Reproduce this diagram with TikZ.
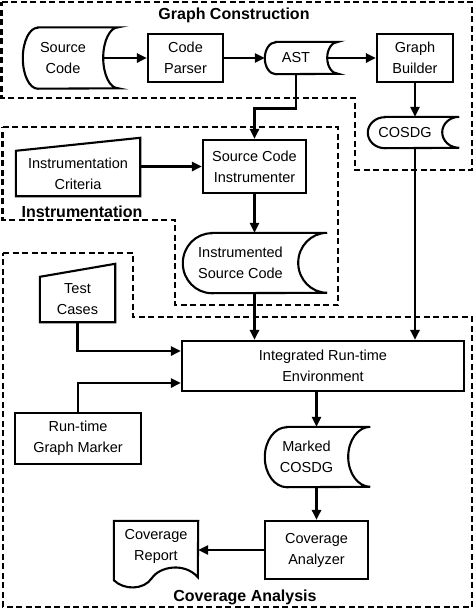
\documentclass[tikz,border=0pt]{standalone}
\usepackage{fontspec}
\setmainfont{Liberation Sans}
\usetikzlibrary{arrows.meta, calc}

% stored data outline round a body node: name, curve depth, half height
\newcommand\storedata[3]{%
  \draw[outline] ([xshift=#2]#1.north west) -- ([xshift=#2]#1.north east)
    arc[start angle=90, end angle=270, x radius=#2, y radius=#3]
    -- ([xshift=#2]#1.south west)
    arc[start angle=270, end angle=90, x radius=#2, y radius=#3] -- cycle;}
% manual input outline: name, rise of the top edge
\newcommand\manualinput[2]{%
  \draw[outline] (#1.south west) -- (#1.north west)
    -- ([yshift=#2]#1.north east) -- (#1.south east) -- cycle;}

\begin{document}
\begin{tikzpicture}[x=1pt, y=-1pt,
  txt/.style={font=\fontsize{14.5}{21}\selectfont, align=center, inner sep=0pt},
  box/.style={txt, draw, line width=2.1pt},
  body/.style={txt},
  outline/.style={line width=2.1pt},
  arr/.style={line width=2.6pt, -{Triangle[length=10pt, width=9pt]}},
  region/.style={line width=2.4pt, dash pattern=on 6pt off 3.5pt},
  regionlabel/.style={font=\fontsize{16}{18}\selectfont\bfseries, inner sep=0pt},
]

  \useasboundingbox (0,0) rectangle (474,611);

  % regions
  \draw[region] (1.5,2) -- (472,2) -- (472,170) -- (355,170) -- (355,98)
    -- (1.5,98) -- cycle;
  \draw[region] (2.5,127) -- (338,127) -- (338,305) -- (175,305) -- (175,220)
    -- (2.5,220) -- cycle;
  \draw[region] (3,253) -- (133,253) -- (133,317) -- (472,317) -- (472,607)
    -- (3,607) -- cycle;

  \node[regionlabel] (gclabel) at (234,15) {Graph Construction};
  \node[regionlabel] (inlabel) at (82,212) {Instrumentation};
  \node[regionlabel] (calabel) at (245,597) {Coverage Analysis};

  % graph construction
  \node[body, minimum width=80pt, minimum height=61pt] (src) at (63,58) {Source\\Code};
  \node[box, minimum width=75pt, minimum height=48pt] (parser) at (185.5,58) {Code\\Parser};
  \node[body, minimum width=62pt, minimum height=32pt] (ast) at (296,58) {AST};
  \node[box, minimum width=76pt, minimum height=48pt] (builder) at (415,58) {Graph\\Builder};
  \node[body, minimum width=74pt, minimum height=31pt] (cosdg) at (405,132.5) {COSDG};
  \storedata{src}{15pt}{30.5pt}
  \storedata{ast}{11pt}{16pt}
  \storedata{cosdg}{17pt}{15.5pt}

  % instrumentation
  \node[box, minimum width=103pt, minimum height=53pt] (instr) at (254.5,166.5) {Source Code\\Instrumenter};
  \node[body, minimum width=124pt, minimum height=45pt] (crit) at (78,173.5) {Instrumentation\\Criteria};
  \node[body, minimum width=115pt, minimum height=60pt] (isc) at (240.5,263) {Instrumented\\Source Code};
  \manualinput{crit}{13pt}
  \storedata{isc}{29pt}{30pt}

  % coverage analysis
  \node[body, minimum width=75pt, minimum height=45pt] (tests) at (77.5,299.5) {Test\\Cases};
  \node[box, minimum width=282pt, minimum height=50pt] (ire) at (323,366) {Integrated Run-time\\Environment};
  \node[box, minimum width=126pt, minimum height=51pt] (marker) at (78,438.5) {Run-time\\Graph Marker};
  \node[body, minimum width=83pt, minimum height=60pt] (marked) at (306.5,457) {Marked\\COSDG};
  \node[box, minimum width=103pt, minimum height=58pt] (analyzer) at (316.5,550) {Coverage\\Analyzer};
  \node[body, minimum width=84pt, minimum height=50pt] (report) at (156,546) {Coverage\\Report};
  \manualinput{tests}{13pt}
  \storedata{marked}{22pt}{30pt}
  \draw[outline] (report.north west) -- (report.north east)
    -- ($(report.south west)+(84,6)$)
    .. controls ($(report.south west)+(71,-9)$) and ($(report.south west)+(46,-5)$)
    .. ($(report.south west)+(38,7)$)
    .. controls ($(report.south west)+(30,19)$) and ($(report.south west)+(10,19)$)
    .. ($(report.south west)+(0,9)$) -- cycle;

  % connectors
  \draw[arr] (src) -- (parser);
  \draw[arr] (parser) -- (ast);
  \draw[arr] (ast) -- (builder);
  \draw[arr] (builder) -- (builder |- cosdg.north);
  \draw[arr] (ast.south) -- ++(0,34) -| (instr.north);
  \draw[arr] (crit.east |- instr.west) -- (instr.west);
  \draw[arr] (instr) -- (instr |- isc.north);
  \draw[arr] (isc.south -| instr) -- (instr |- ire.north);
  \draw[arr] (cosdg.south -| builder) -- (builder |- ire.north);
  \draw[arr] (tests.south) |- ([yshift=15pt]ire.west);
  \draw[arr] (marker.north) |- ([yshift=-17pt]ire.west);
  \draw[arr] (ire.south -| analyzer) -- (analyzer |- marked.north);
  \draw[arr] (analyzer |- marked.south) -- (analyzer);
  \draw[arr] (analyzer) -- (analyzer -| report.east);

\end{tikzpicture}
\end{document}
